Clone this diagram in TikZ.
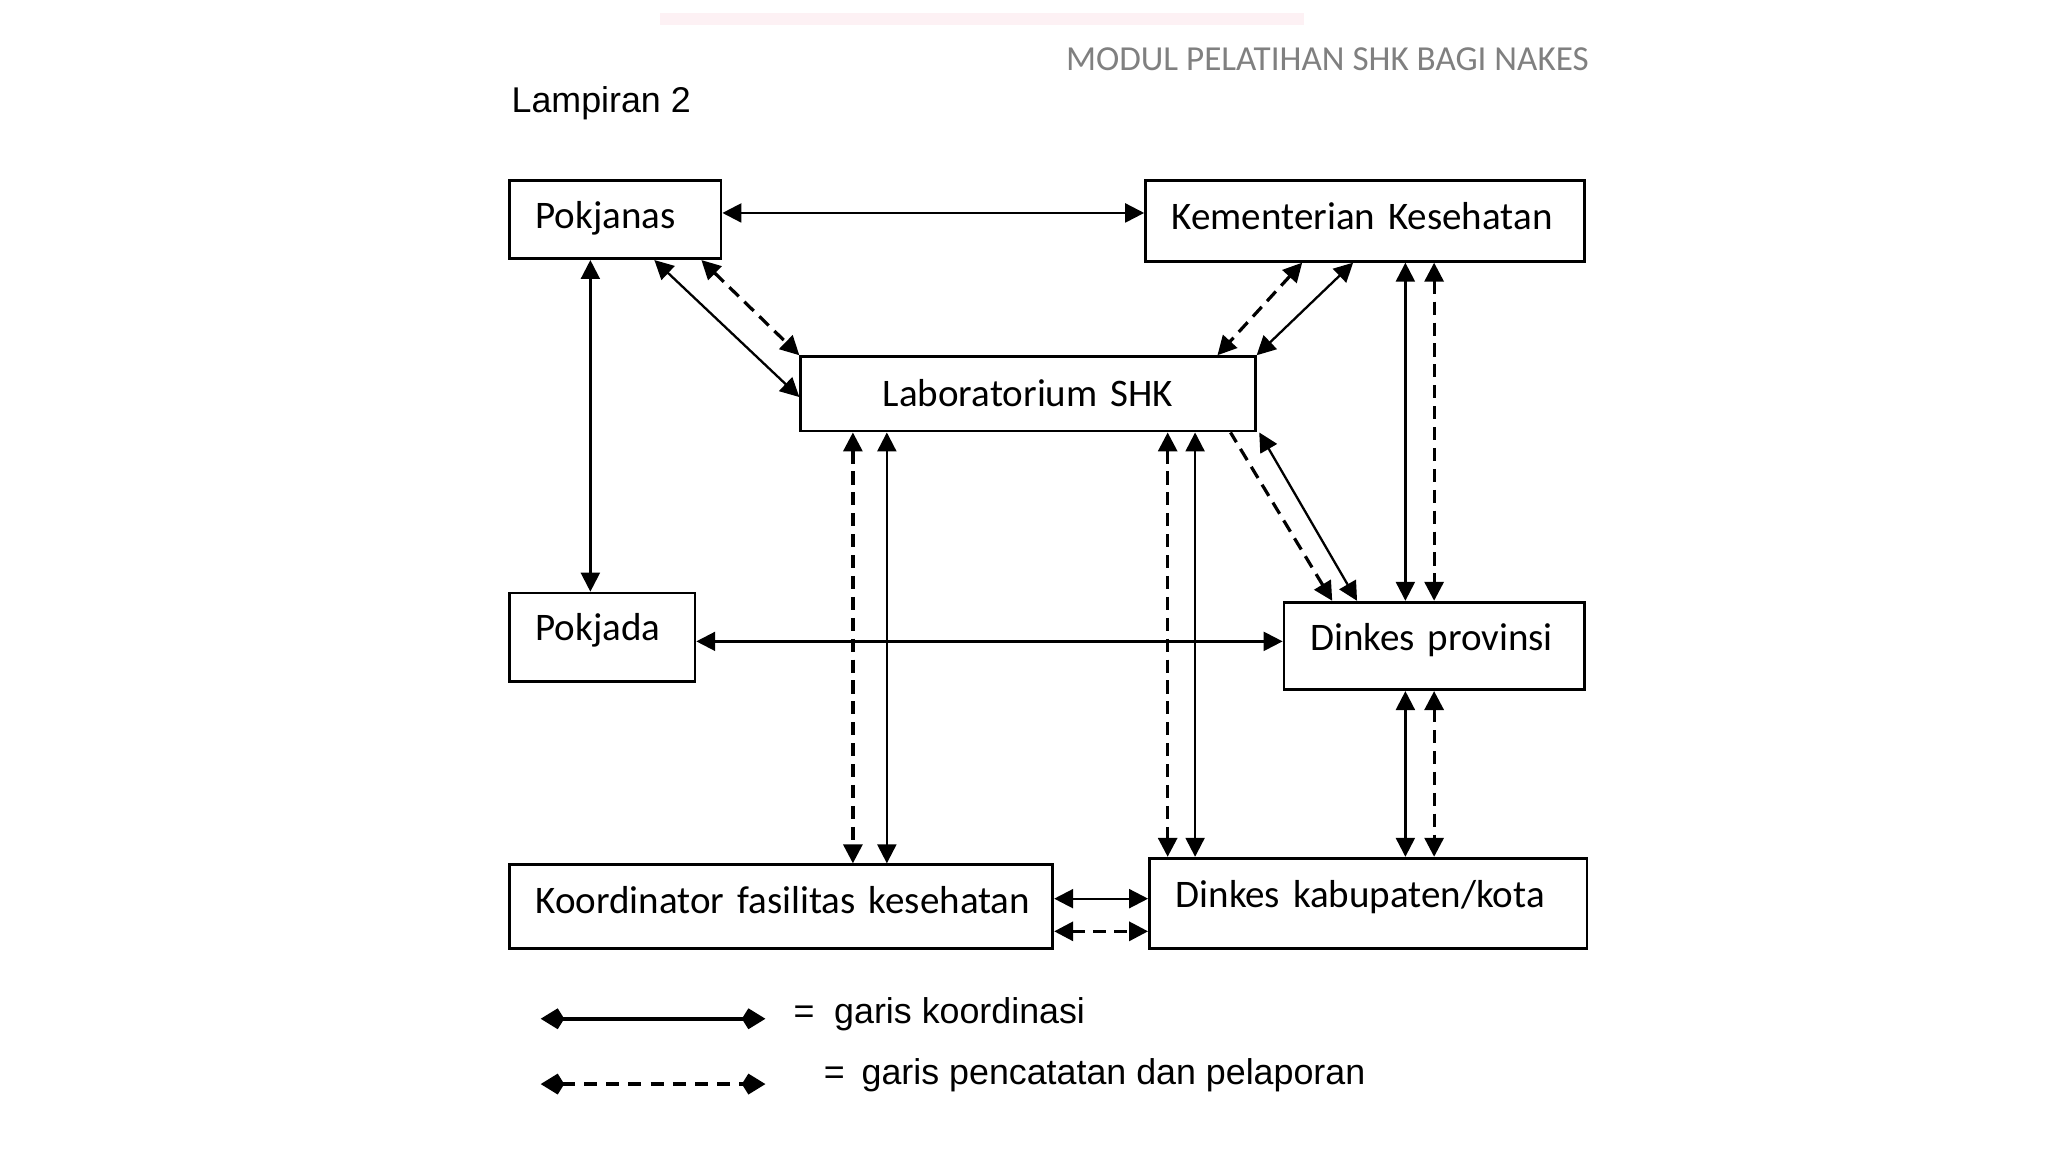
\documentclass[tikz,border=0pt]{standalone}
\usepackage{fontspec}
\setmainfont{Carlito}
\newfontfamily\arialfont{Liberation Sans}
\usepackage{tikz}
\usetikzlibrary{arrows.meta,calc}
\definecolor{pinkbar}{RGB}{253,241,244}
\tikzset{
	box/.style={draw, line width=0.6pt, anchor=north west, inner xsep=2mm, inner ysep=0pt,
			text height=1.9mm, align=left, font=\fontsize{8.5}{10}\selectfont},
	koord/.style={line width=0.5pt, <->},
	lapor/.style={line width=0.7pt, dash pattern=on 1mm off 0.6mm, <->},
	legkoord/.style={line width=0.8pt, {Kite[length=1.8mm,width=1.6mm,inset=0.5mm]}-{Kite[length=1.8mm,width=1.6mm,inset=0.5mm]}},
	leglapor/.style={legkoord, line width=0.9pt, dash pattern=on 1mm off 0.7mm},
	legtext/.style={anchor=base west, inner sep=0pt, font=\arialfont\fontsize{7.8}{9}\selectfont}
}

\begin{document}
\begin{tikzpicture}[x=0.1mm, y=-0.1mm, >={Triangle[length=1.45mm,width=1.45mm]}]
	\fill[white] (0,0) rectangle (1568,883);
	\useasboundingbox (0,0) rectangle (1568,883);
	\fill[pinkbar] (505,10) rectangle (998,19);
	\node[anchor=base east, inner sep=0pt, text=black!50, font=\fontsize{7.65}{9}\selectfont] (modul) at (1217,54) {MODUL PELATIHAN SHK BAGI NAKES};
	\node[legtext] (lampiran) at (391,86) {Lampiran 2};

	\node[box, minimum width=16.2mm, minimum height=6mm, text width=12.2mm, text depth=0.5mm] (pokjanas) at (389,137) {Pokjanas};
	\node[box, minimum width=33.6mm, minimum height=6.2mm, text width=29.6mm, text depth=0.55mm] (kemenkes) at (876,137) {Kementerian Kesehatan};
	\node[box, minimum width=34.8mm, minimum height=5.7mm, text width=30.8mm, text depth=0mm, align=center] (lab) at (612,272) {Laboratorium SHK};
	\node[box, minimum width=14.2mm, minimum height=6.8mm, text width=10.2mm, text depth=1.4mm] (pokjada) at (389,453) {Pokjada};
	\node[box, minimum width=23mm, minimum height=6.7mm, text width=19mm, text depth=1.2mm] (provinsi) at (982,460) {Dinkes provinsi};
	\node[box, minimum width=41.6mm, minimum height=6.4mm, text width=37.6mm, text depth=0.8mm] (faskes) at (389,661) {\mbox{Koordinator fasilitas kesehatan}};
	\node[box, minimum width=33.5mm, minimum height=6.9mm, text width=29.5mm, text depth=1.3mm] (kabkota) at (879,656) {Dinkes kabupaten/kota};

	\draw[koord] ($(pokjanas.east)+(0,-5)$) -- ($(pokjanas.east -| kemenkes.west)+(0,-5)$);
	\draw[koord] ($(pokjanas.south west)+(63,0)$) -- ($(pokjada.north west)+(63,0)$);
	\draw[koord] ($(pokjanas.south west)+(112,0)$) -- ($(lab.north west)+(0,32)$);
	\draw[lapor] ($(pokjanas.south west)+(148,0)$) -- (lab.north west);
	\draw[lapor] ($(kemenkes.south west)+(121,0)$) -- ($(lab.north east)+(-30,0)$);
	\draw[koord] ($(kemenkes.south west)+(160,0)$) -- (lab.north east);
	\draw[koord] ($(kemenkes.south west)+(200,0)$) -- ($(provinsi.north west)+(94,0)$);
	\draw[lapor] ($(kemenkes.south west)+(222,0)$) -- ($(provinsi.north west)+(116,0)$);
	\draw[lapor, <-] ($(provinsi.north west)+(38,0)$) -- ($(lab.south east)+(-20,0)$);
	\draw[koord] ($(lab.south east)+(2,0)$) -- ($(provinsi.north west)+(57,0)$);
	\draw[lapor] ($(lab.south west)+(41,0)$) -- ($(faskes.north west)+(264,0)$);
	\draw[koord] ($(lab.south west)+(67,0)$) -- ($(faskes.north west)+(290,0)$);
	\draw[lapor] ($(lab.south west)+(282,0)$) -- ($(kabkota.north west)+(15,0)$);
	\draw[koord] ($(lab.south west)+(303,0)$) -- ($(kabkota.north west)+(36,0)$);
	\draw[koord] ($(pokjada.east)+(0,3)$) -- ($(pokjada.east -| provinsi.west)+(0,3)$);
	\draw[koord] ($(provinsi.south west)+(94,0)$) -- ($(kabkota.north west)+(197,0)$);
	\draw[lapor] ($(provinsi.south west)+(116,0)$) -- ($(kabkota.north west)+(219,0)$);
	\draw[koord] ($(faskes.east)+(0,-6)$) -- ($(faskes.east -| kabkota.west)+(0,-6)$);
	\draw[lapor] ($(faskes.east)+(0,19)$) -- ($(faskes.east -| kabkota.west)+(0,19)$);

	\coordinate (koordL) at (414,780);
	\coordinate (koordR) at (586,780);
	\coordinate (laporL) at (414,830);
	\coordinate (laporR) at (586,830);
	\draw[legkoord] (koordL) -- (koordR);
	\draw[leglapor] (laporL) -- (laporR);
	\node[legtext] (ketkoord) at (607,784) {=\hspace{1.5mm}garis koordinasi};
	\node[legtext] (ketlapor) at (630,830) {=\hspace{1.3mm}garis pencatatan dan pelaporan};
\end{tikzpicture}
\end{document}
